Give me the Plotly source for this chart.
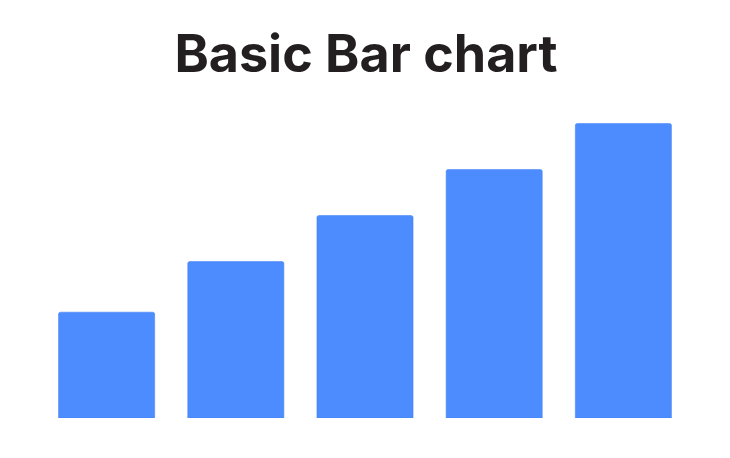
import plotly.graph_objects as go

# Data
categories = ["A", "B", "C", "D", "E"]
values = [23, 34, 44, 54, 64]

fig = go.Figure()

fig.add_trace(go.Bar(
    x=categories,
    y=values,
    marker=dict(color="#4d8cfe", line=dict(color="#3f7ff5", width=0.5), cornerradius=2),
    hoverinfo="x+y",
))

# page has an 8px body margin, so offsets are compensated
fig.update_layout(
    width=730,
    height=458,
    title=dict(
        text="<b>Basic Bar chart</b>",
        x=358 / 730,
        xanchor="center",
        y=1 - 46 / 458,
        yanchor="middle",
        font=dict(family="Inter", size=52, color="#231f20"),
    ),
    margin=dict(l=34, r=50, t=92, b=48),
    bargap=0.256,
    plot_bgcolor="white",
    paper_bgcolor="white",
    showlegend=False,
    xaxis=dict(visible=False),
    yaxis=dict(visible=False, range=[0, 69.1]),
)

fig.write_html("out.html")
